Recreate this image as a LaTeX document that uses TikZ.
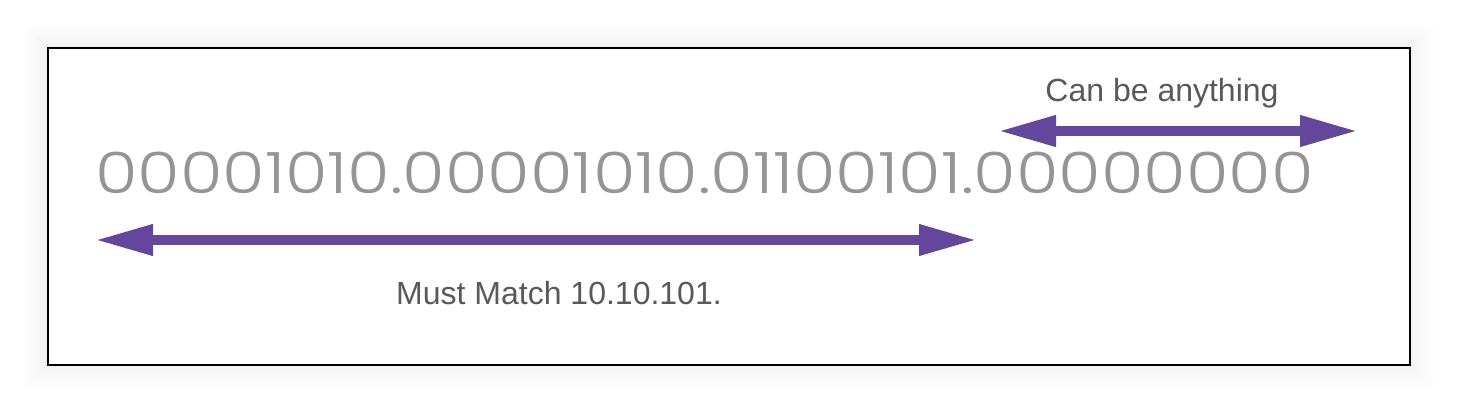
\documentclass[tikz,border=0pt]{standalone}
\usepackage{fontspec}
\setmainfont{Liberation Sans}
\newfontfamily\bitsfont{Poppins Light}
\usetikzlibrary{arrows.meta}
\definecolor{dpurple}{RGB}{100,70,155}
\definecolor{lgray}{RGB}{149,149,149}
\definecolor{dgray}{RGB}{89,89,89}

\begin{document}
\begin{tikzpicture}[x=1pt,y=-1pt,
  span/.style={draw=dpurple, line width=10pt, {Triangle[length=58pt,width=29pt]}-{Triangle[length=58pt,width=29pt]}},
  lbl/.style={inner sep=0pt, anchor=base, text=dgray, font=\fontsize{32}{36}\selectfont}]
\useasboundingbox (0,0) rectangle (1458,420);
\foreach \s in {2,4,...,24}
  \fill[black, opacity=0.005] (48-\s,48-\s) rectangle (1410+\s,365+\s);
\fill[white] (48,48) rectangle (1410,365);
\draw[black, line width=1.2pt] (48,48) rectangle (1410,365);
\node[inner sep=0pt, anchor=base west, text=lgray, font=\bitsfont\fontsize{57}{60}\selectfont] (bits) at (95,193) {\scalebox{1.21}[1]{00001010.00001010.01100101.00000000}};
\coordinate (match-l) at (95,240);
\coordinate (match-r) at (977,240);
\coordinate (any-l) at (998,131);
\coordinate (any-r) at (1358,131);
\draw[span] (match-l) -- (match-r);
\draw[span] (any-l) -- (any-r);
\node[lbl] (match) at (559,304) {Must Match 10.10.101.};
\node[lbl] (any) at (1162,101) {Can be anything};
\end{tikzpicture}
\end{document}
